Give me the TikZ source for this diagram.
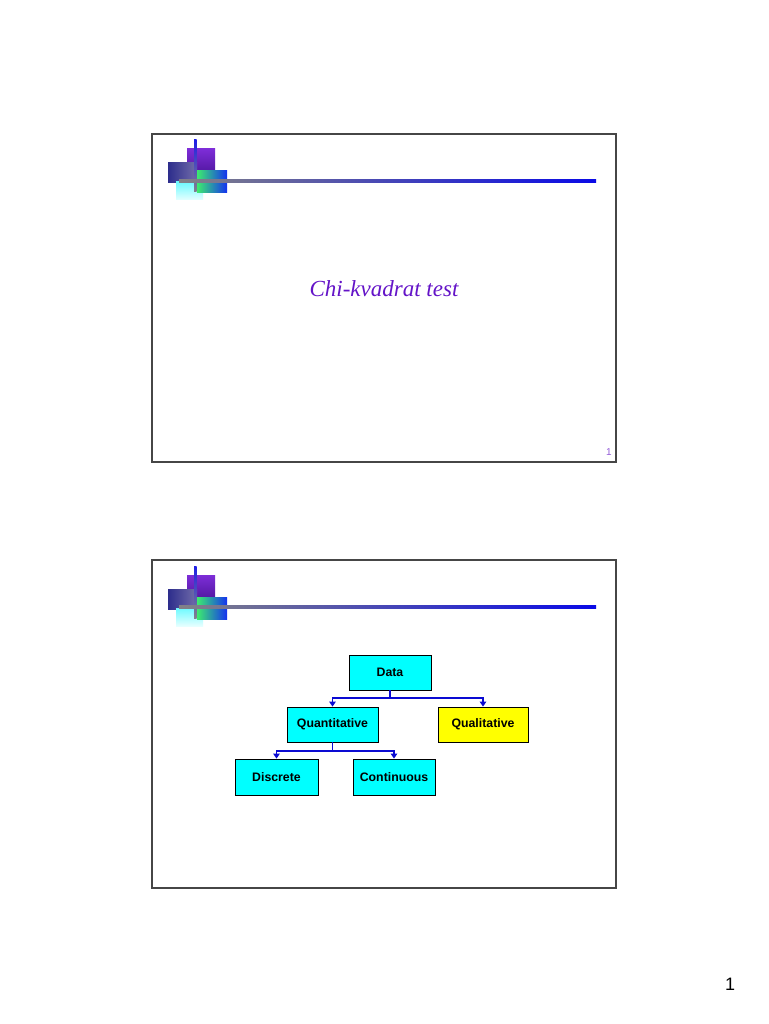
\documentclass[tikz,border=0pt]{standalone}
\usepackage{fontspec}
\setmainfont{Liberation Serif}
\setsansfont{Liberation Sans}
\usetikzlibrary{arrows.meta}

\definecolor{framegray}{RGB}{70,70,70}
\definecolor{linkblue}{RGB}{10,10,210}
\definecolor{titlepurple}{RGB}{100,20,200}
\definecolor{rulerblue}{RGB}{10,10,230}
\definecolor{rulergray}{RGB}{130,130,135}
\definecolor{boxcyan}{RGB}{0,255,255}
\definecolor{boxyellow}{RGB}{255,255,0}

\begin{document}
\begin{tikzpicture}[x=1pt,y=-1pt,
    frame/.style={draw=framegray,line width=1.2pt},
    box/.style={draw=black,line width=0.8pt,minimum width=82pt,minimum height=35pt,inner sep=0pt,
                font=\sffamily\bfseries\fontsize{12.3}{12.3}\selectfont},
    link/.style={draw=linkblue,line width=1.8pt},
    tip/.style={-{Triangle[width=6.5pt,length=5pt]}}]

		\useasboundingbox (0,0) rectangle (768,1024);
		\fill[white] (0,0) rectangle (768,1024);

		% the two slide frames with their logo
		\foreach \off in {0,426} {
		  \begin{scope}[shift={(0,\off)}]
		    \draw[frame] (152,134) rectangle (616,462);
		    \shade[top color={rgb,255:red,125;green,45;blue,215},bottom color={rgb,255:red,85;green,25;blue,165}] (187,149) rectangle (215,171);
		    \shade[left color={rgb,255:red,45;green,45;blue,140},right color={rgb,255:red,115;green,110;blue,170}] (168,163) rectangle (197,183);
		    \shade[top color={rgb,255:red,110;green,250;blue,255},bottom color={rgb,255:red,230;green,255;blue,255}] (176,182) rectangle (203,200);
		    \shade[shading angle=45,left color={rgb,255:red,60;green,235;blue,110},right color={rgb,255:red,20;green,50;blue,240}] (197,171) rectangle (227,193);
		    \shade[top color={rgb,255:red,30;green,30;blue,230},bottom color={rgb,255:red,130;green,130;blue,140}] (194,140) rectangle (196.5,192);
		    \shade[left color=rulergray,middle color=rulerblue,right color=rulerblue] (179,179.5) rectangle (596,182.5);
		  \end{scope}
		}

		% slide 1
		\node (title) at (384,289) {\color{titlepurple}\fontsize{23}{23}\selectfont\itshape Chi-kvadrat test};
		\node (num1) at (609,452) {\color{titlepurple!70}\sffamily\fontsize{10}{10}\selectfont 1};

		% slide 2
		\node[box,fill=boxcyan] (data) at (390,672.5) {Data};
		\node[box,fill=boxcyan,minimum width=91pt] (quant) at (332.5,724.5) {Quantitative};
		\node[box,fill=boxyellow,minimum width=90pt] (qual) at (483,724.5) {Qualitative};
		\node[box,fill=boxcyan,minimum width=83pt,minimum height=36pt] (disc) at (276.5,777) {Discrete};
		\node[box,fill=boxcyan,minimum width=82pt,minimum height=36pt] (cont) at (394,777) {Continuous};

		\coordinate (jdata) at (data.south |- 0,698);
		\coordinate (jquant) at (quant.south |- 0,751);
		\draw[link] (data.south) -- (jdata);
		\draw[link,tip] (jdata) -| (quant.north);
		\draw[link,tip] (jdata) -| (qual.north);
		\draw[link] (quant.south) -- (jquant);
		\draw[link,tip] (jquant) -| (disc.north);
		\draw[link,tip] (jquant) -| (cont.north);

		% page number
		\node (page) at (730,984) {\sffamily\fontsize{18}{18}\selectfont 1};

\end{tikzpicture}
\end{document}
